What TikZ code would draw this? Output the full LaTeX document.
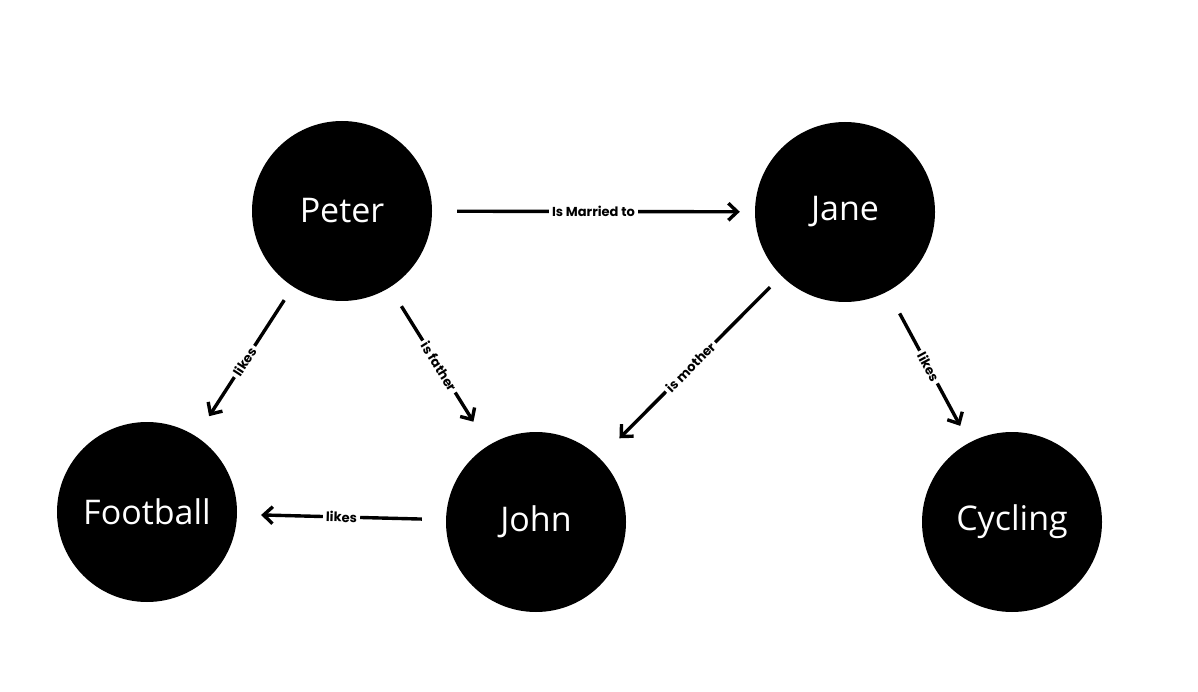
\documentclass[tikz,border=0pt]{standalone}
\usepackage{fontspec}
\setmainfont{Open Sans}
\newfontfamily\labelfont{Poppins}
\usetikzlibrary{arrows.meta}
\tikzset{
  entity/.style={circle, fill=black, text=white, minimum size=180pt, inner sep=0pt, font=\fontsize{34}{38}\selectfont},
  rel/.style={line width=3.4pt, -{Straight Barb[length=9pt,width=17pt,line width=3.4pt]}},
  rellabel/.style={fill=white, inner sep=3pt, sloped, font=\labelfont\bfseries\fontsize{13}{15}\selectfont}
}
\begin{document}
\begin{tikzpicture}[x=1pt,y=-1pt]
\useasboundingbox (0,0) rectangle (1198,692);
\node[entity] (peter) at (342,211) {Peter};
\node[entity] (jane) at (845,212) {Jane};
\node[entity] (football) at (147,512) {Football};
\node[entity] (john) at (536,522) {John};
\node[entity] (cycling) at (1012,522) {Cycling};
\draw[rel, shorten <=25pt, shorten >=15pt] (peter) -- node[rellabel]{Is Married to} (jane);
\draw[rel, shorten <=16pt, shorten >=24pt] (peter) -- node[rellabel]{likes} (football);
\draw[rel, shorten <=22pt, shorten >=28pt] (peter) -- node[rellabel]{is father} (john);
\draw[rel, shorten <=16pt, shorten >=28pt] (jane) -- node[rellabel]{is mother} (john);
\draw[rel, shorten <=25pt, shorten >=19pt] (jane) -- node[rellabel]{likes} (cycling);
\draw[rel, shorten <=24pt, shorten >=24pt] (john) -- node[rellabel]{likes} (football);
\end{tikzpicture}
\end{document}
